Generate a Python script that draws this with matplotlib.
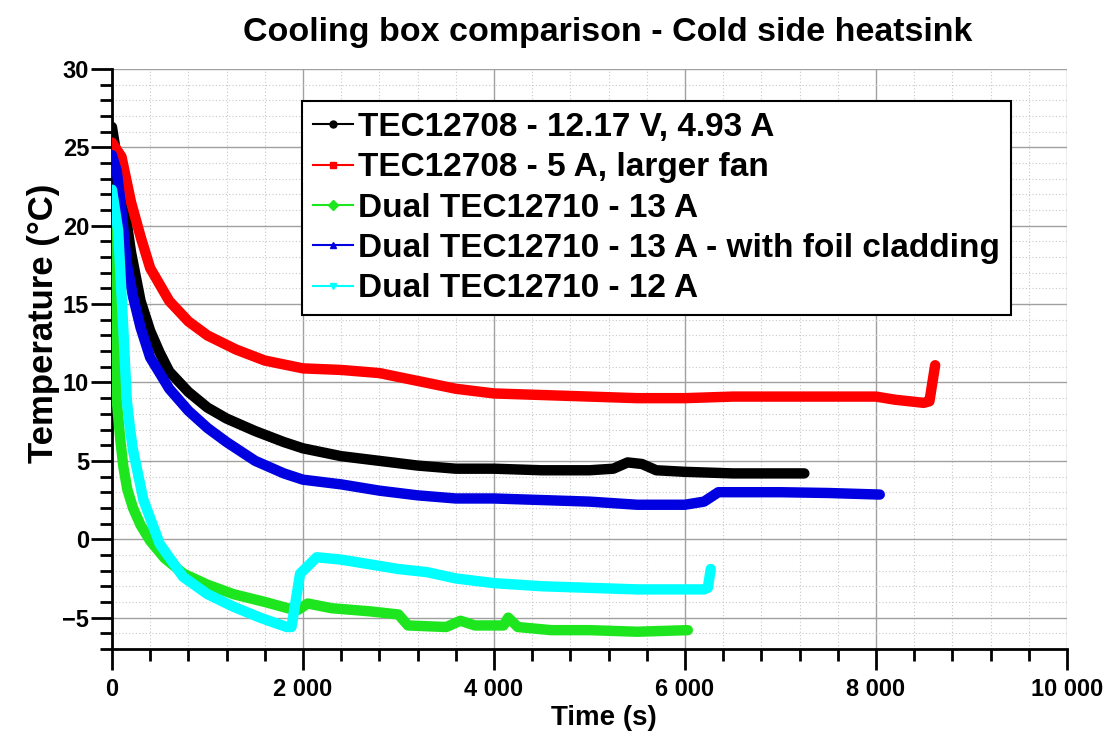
import matplotlib as mpl
import matplotlib.pyplot as plt
from matplotlib.lines import Line2D
from matplotlib.ticker import MultipleLocator, FuncFormatter

# readings (time in s, temperature in degC)
black_t = [0, 100, 200, 300, 400, 500, 600, 800, 1000, 1200, 1500, 1800, 2000,
           2400, 2800, 3200, 3600, 4000, 4500, 5000, 5250, 5400, 5550, 5700,
           6000, 6500, 7000, 7250]
black_T = [26.3, 22.5, 18.3, 15.2, 13.3, 11.9, 10.7, 9.4, 8.4, 7.7, 6.9, 6.2, 5.8,
           5.3, 5.0, 4.7, 4.5, 4.5, 4.4, 4.4, 4.5, 4.9, 4.8, 4.4,
           4.3, 4.2, 4.2, 4.2]

red_t = [0, 100, 200, 300, 400, 600, 800, 1000, 1300, 1600, 2000, 2400, 2800,
         3200, 3600, 4000, 4500, 5000, 5500, 6000, 6500, 7000, 7500, 8000,
         8200, 8500, 8560, 8620]
red_T = [25.3, 24.4, 21.5, 19.3, 17.3, 15.2, 13.9, 13.0, 12.1, 11.4, 10.9, 10.8, 10.6,
         10.1, 9.6, 9.3, 9.2, 9.1, 9.0, 9.0, 9.1, 9.1, 9.1, 9.1,
         8.9, 8.7, 8.8, 11.1]

green_t = [0, 25, 50, 90, 120, 160, 220, 300, 400, 550, 750, 1000, 1270, 1600,
           1900, 1950, 2050, 2300, 2700, 3000, 3100, 3500, 3650, 3800, 4100,
           4150, 4250, 4600, 5000, 5500, 6030]
green_T = [21.0, 13.0, 8.9, 6.2, 4.6, 3.2, 2.0, 0.9, -0.1, -1.2, -2.2, -2.9, -3.5, -4.0,
           -4.5, -4.5, -4.1, -4.4, -4.6, -4.8, -5.5, -5.6, -5.2, -5.5, -5.5,
           -5.0, -5.6, -5.8, -5.8, -5.9, -5.8]

blue_t = [0, 50, 100, 155, 220, 300, 400, 600, 800, 1000, 1200, 1500, 1800, 2000,
          2400, 2800, 3200, 3600, 4000, 4500, 5000, 5500, 6000, 6200, 6350,
          7000, 7500, 8040]
blue_T = [24.5, 23.5, 21.0, 17.6, 15.5, 13.5, 11.6, 9.6, 8.2, 7.1, 6.2, 5.0, 4.2, 3.8,
          3.5, 3.1, 2.8, 2.6, 2.6, 2.5, 2.4, 2.2, 2.2, 2.4, 3.0,
          3.0, 2.95, 2.85]

cyan_t = [0, 65, 120, 155, 190, 220, 330, 500, 745, 1000, 1270, 1550, 1830, 1880,
          1970, 2145, 2400, 2600, 3000, 3300, 3600, 4000, 4500, 5000, 5500,
          6200, 6240, 6270]
cyan_T = [22.3, 19.7, 13.3, 8.9, 7.0, 5.7, 2.5, -0.3, -2.4, -3.5, -4.3, -5.0, -5.6, -5.6,
          -2.2, -1.15, -1.3, -1.5, -1.9, -2.1, -2.5, -2.8, -3.0, -3.1, -3.2,
          -3.2, -3.1, -1.9]

labels = ['TEC12708 - 12.17 V, 4.93 A',
          'TEC12708 - 5 A, larger fan',
          'Dual TEC12710 - 13 A',
          'Dual TEC12710 - 13 A - with foil cladding',
          'Dual TEC12710 - 12 A']
colors = ['#000000', '#ff0000', '#1ee61e', '#0000e0', '#00ffff']
markers = ['o', 's', 'D', '^', 'v']

plt.rcParams['font.family'] = ['Liberation Sans', 'DejaVu Sans']
plt.rcParams['font.weight'] = 'bold'

fig = plt.figure(figsize=(11.15, 7.48), dpi=100)
ax = fig.add_axes([0.1004, 0.1324, 0.8565, 0.7754])

series = [(black_t, black_T), (red_t, red_T), (green_t, green_T),
          (blue_t, blue_T), (cyan_t, cyan_T)]
for (t, T), c in zip(series, colors):
    ax.plot(t, T, color=c, lw=7.5, solid_joinstyle='round', solid_capstyle='round', zorder=3)

ax.set_xlim(0, 10000)
ax.set_ylim(-7, 30)

ax.xaxis.set_major_locator(MultipleLocator(2000))
ax.xaxis.set_minor_locator(MultipleLocator(400))
ax.yaxis.set_major_locator(MultipleLocator(5))
ax.yaxis.set_minor_locator(MultipleLocator(1))
ax.xaxis.set_major_formatter(FuncFormatter(lambda x, p: format(int(x), ',').replace(',', ' ')))
ax.yaxis.set_major_formatter(
    FuncFormatter(lambda y, p: ('%d' % y).replace('-', '\u2212') if y > -6 else ''))

ax.grid(which='major', color='#a0a0a0', lw=1.0, ls='-', zorder=0)
ax.grid(which='minor', color='#c8c8c8', lw=0.8, ls=(0, (1, 2)), zorder=0)
ax.set_axisbelow(True)

for s in ['top', 'right']:
    ax.spines[s].set_visible(False)
for s in ['left', 'bottom']:
    ax.spines[s].set_linewidth(2.0)

ax.tick_params(which='major', length=15, width=2.0, direction='out',
               labelsize=17, pad=1.5)
ax.tick_params(which='minor', length=8.5, width=2.0, direction='out')
ax.tick_params(axis='x', which='major', pad=6)
for lab in ax.get_xticklabels() + ax.get_yticklabels():
    lab.set_fontweight('bold')

fig.text(0.545, 0.957, 'Cooling box comparison - Cold side heatsink',
         ha='center', va='center', fontsize=24.5, fontweight='bold')
fig.text(0.542, 0.04, 'Time (s)', ha='center', va='center',
         fontsize=20, fontweight='bold')
fig.text(0.039, 0.568, 'Temperature (°C)', ha='center', va='center',
         rotation=90, fontsize=25, fontweight='bold')

handles = [Line2D([], [], color=c, lw=1.5, marker=m, ms=5) for c, m in zip(colors, markers)]
leg = ax.legend(handles, labels, loc='upper left', bbox_to_anchor=(0.199, 0.945),
                borderaxespad=0, fontsize=24, handlelength=1.2, handletextpad=0.15,
                labelspacing=0.28, borderpad=0.33, fancybox=False, framealpha=1,
                edgecolor='black')
leg.get_frame().set_linewidth(1.5)
for txt in leg.get_texts():
    txt.set_fontweight('bold')

plt.savefig('out.png', dpi=100)
